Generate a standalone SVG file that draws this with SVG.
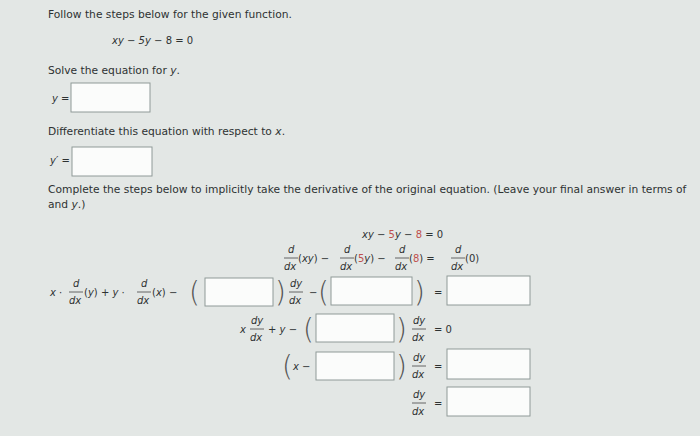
<svg xmlns="http://www.w3.org/2000/svg" width="700" height="436" viewBox="0 0 700 436">
<style>
text{font-family:"DejaVu Sans",Verdana,sans-serif;font-size:10.7px;fill:#2e3232}
.m{font-family:"DejaVu Sans",sans-serif;font-size:10px;font-style:italic}
.n{font-style:normal}
.r{fill:#c0504d}
.b{fill:#fbfcfb;stroke:#8f9a98;stroke-width:1}
.p{font-family:"DejaVu Sans",sans-serif;font-size:28px;font-weight:200;fill:#555}
.f{stroke:#444;stroke-width:0.8}
</style>
<rect width="700" height="436" fill="#e3e7e5"/>
<g id="intro">
<text x="48" y="18">Follow the steps below for the given function.</text>
<text class="m" x="112" y="44">xy <tspan class="n">−</tspan> 5y <tspan class="n">−</tspan> <tspan class="n">8 = 0</tspan></text>
<text x="48" y="74">Solve the equation for <tspan font-style="italic">y</tspan>.</text>
<text class="m" x="52" y="102">y <tspan class="n">=</tspan></text>
<rect class="b" x="71" y="83" width="79" height="29"/>
<text x="48" y="135">Differentiate this equation with respect to <tspan font-style="italic">x</tspan>.</text>
<text class="m" x="50" y="164">y′ <tspan class="n">=</tspan></text>
<rect class="b" x="72" y="147" width="80" height="29"/>
<text x="48" y="193">Complete the steps below to implicitly take the derivative of the original equation. (Leave your final answer in terms of</text>
<text x="48" y="208">and <tspan font-style="italic">y</tspan>.)</text>
</g>
<g id="row1">
<text class="m" x="362" y="238">xy <tspan class="n">−</tspan> <tspan class="r n">5</tspan>y <tspan class="n">−</tspan> <tspan class="n r">8</tspan> <tspan class="n">= 0</tspan></text>
</g>
<g id="row2">
<text class="m" x="288" y="253">d</text><line class="f" x1="284" y1="258" x2="298" y2="258"/><text class="m" x="284" y="270">dx</text>
<text class="m" x="298" y="262"><tspan class="n">(</tspan>xy<tspan class="n">) −</tspan></text>
<text class="m" x="344" y="253">d</text><line class="f" x1="340" y1="258" x2="354" y2="258"/><text class="m" x="340" y="270">dx</text>
<text class="m" x="354" y="262"><tspan class="n">(</tspan><tspan class="n r">5</tspan>y<tspan class="n">) −</tspan></text>
<text class="m" x="399" y="253">d</text><line class="f" x1="395" y1="258" x2="409" y2="258"/><text class="m" x="395" y="270">dx</text>
<text class="m n" x="409" y="262">(<tspan class="r">8</tspan>)  =</text>
<text class="m" x="455" y="253">d</text><line class="f" x1="451" y1="258" x2="465" y2="258"/><text class="m" x="451" y="270">dx</text>
<text class="m n" x="465" y="262">(0)</text>
</g>
<g id="row3">
<text class="m" x="50" y="296">x <tspan class="n">·</tspan></text>
<text class="m" x="73" y="287">d</text><line class="f" x1="69" y1="292" x2="83" y2="292"/><text class="m" x="69" y="304">dx</text>
<text class="m" x="84" y="296"><tspan class="n">(</tspan>y<tspan class="n">) + </tspan>y <tspan class="n">·</tspan></text>
<text class="m" x="141" y="287">d</text><line class="f" x1="137" y1="292" x2="151" y2="292"/><text class="m" x="137" y="304">dx</text>
<text class="m" x="152" y="296"><tspan class="n">(</tspan>x<tspan class="n">) −</tspan></text>
<text class="p" x="189" y="302">(</text>
<rect class="b" x="205" y="278" width="68" height="28"/>
<text class="p" x="275" y="302">)</text>
<text class="m" x="290" y="287">dy</text><line class="f" x1="289" y1="292" x2="303" y2="292"/><text class="m" x="289" y="304">dx</text>
<text class="m n" x="309" y="296">−</text>
<text class="p" x="318" y="302">(</text>
<rect class="b" x="331" y="277" width="81" height="28"/>
<text class="p" x="414" y="302">)</text>
<text class="m n" x="434" y="296">=</text>
<rect class="b" x="447" y="276" width="83" height="29"/>
</g>
<g id="row4">
<text class="m" x="240" y="333">x</text>
<text class="m" x="251" y="324">dy</text><line class="f" x1="250" y1="329" x2="264" y2="329"/><text class="m" x="250" y="341">dx</text>
<text class="m" x="268" y="333"><tspan class="n">+ </tspan>y<tspan class="n"> −</tspan></text>
<text class="p" x="303" y="339">(</text>
<rect class="b" x="316" y="314" width="78" height="28"/>
<text class="p" x="396" y="339">)</text>
<text class="m" x="413" y="324">dy</text><line class="f" x1="412" y1="329" x2="426" y2="329"/><text class="m" x="412" y="341">dx</text>
<text class="m n" x="434" y="333">=  0</text>
</g>
<g id="row5">
<text class="p" x="282" y="376">(</text>
<text class="m" x="293" y="370">x <tspan class="n">−</tspan></text>
<rect class="b" x="316" y="352" width="78" height="28"/>
<text class="p" x="396" y="376">)</text>
<text class="m" x="413" y="361">dy</text><line class="f" x1="412" y1="366" x2="426" y2="366"/><text class="m" x="412" y="378">dx</text>
<text class="m n" x="434" y="370">=</text>
<rect class="b" x="447" y="349" width="83" height="30"/>
</g>
<g id="row6">
<text class="m" x="413" y="398">dy</text><line class="f" x1="412" y1="403" x2="426" y2="403"/><text class="m" x="412" y="415">dx</text>
<text class="m n" x="434" y="407">=</text>
<rect class="b" x="447" y="387" width="83" height="29"/>
</g>
<g id="connectors"/>
</svg>
